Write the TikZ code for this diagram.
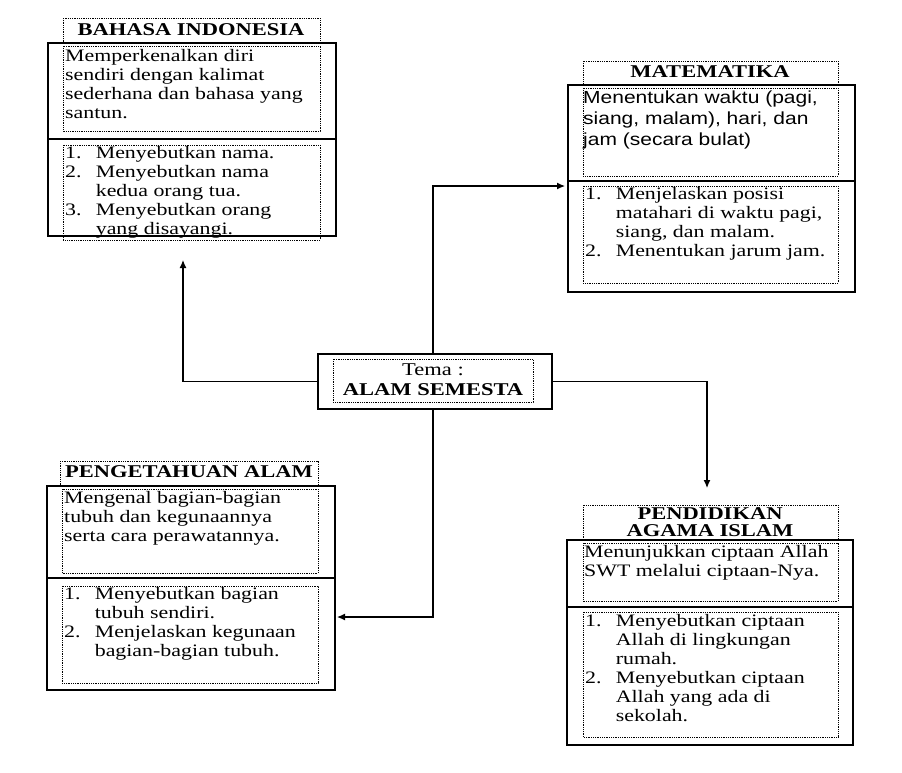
\documentclass[tikz,border=0pt]{standalone}
\usepackage{fontspec}
\setmainfont[FakeStretch=1.25]{Liberation Serif}
\setsansfont[FakeStretch=1.2]{Liberation Sans}
\usetikzlibrary{arrows.meta}
\begin{document}
\begin{tikzpicture}[x=1pt,y=-1pt,
  outer/.style={draw,line width=1.2pt},
  dot/.style={draw,densely dotted,line width=0.8pt},
  txt/.style={anchor=north west,inner sep=0pt,align=left,font=\fontsize{17.5}{19}\selectfont},
  ttl/.style={inner sep=0pt,font=\fontsize{18}{19}\selectfont\bfseries,align=center},
  conn/.style={line width=1.2pt,-{Latex[length=8pt,width=7pt]}}]
\useasboundingbox (0,0) rectangle (902,772);
\newcommand{\itm}[1]{\makebox[1.75em][l]{#1}}
\newcommand{\cnt}{\hspace*{1.75em}}
% BAHASA INDONESIA
\draw[outer] (48,43) rectangle (336,236); \draw[outer] (48,139)--(336,139);
\draw[dot] (63,18) rectangle (320,43); \node[ttl] (t1) at (191,30) {BAHASA INDONESIA};
\draw[dot] (63,46) rectangle (320,131);
\node[txt] (a1) at (65,49) {Memperkenalkan diri\\sendiri dengan kalimat\\sederhana dan bahasa yang\\santun.};
\draw[dot] (63,145) rectangle (320,240);
\node[txt] (b1) at (65,146) {\itm{1.}Menyebutkan nama.\\\itm{2.}Menyebutkan nama\\\cnt kedua orang tua.\\\itm{3.}Menyebutkan orang\\\cnt yang disayangi.};
% MATEMATIKA
\draw[outer] (568,85) rectangle (855,292); \draw[outer] (568,181)--(855,181);
\draw[dot] (583,61) rectangle (838,85); \node[ttl] (t2) at (710,72) {MATEMATIKA};
\draw[dot] (583,88) rectangle (838,176);
\node[txt,font=\fontsize{17.5}{21}\sffamily\selectfont] (a2) at (583,91) {Menentukan waktu (pagi,\\siang, malam), hari, dan\\jam (secara bulat)};
\draw[dot] (583,186) rectangle (838,283);
\node[txt] (b2) at (585,187) {\itm{1.}Menjelaskan posisi\\\cnt matahari di waktu pagi,\\\cnt siang, dan malam.\\\itm{2.}Menentukan jarum jam.};
% CENTER
\node[outer,minimum width=234pt,minimum height=55pt,inner sep=0pt] (c) at (435,381.5) {};
\draw[dot] (333,359) rectangle (533,402);
\node[inner sep=0pt,align=center,font=\fontsize{18}{20}\selectfont] (ct) at (433,380) {Tema :\\\textbf{ALAM SEMESTA}};
% PENGETAHUAN ALAM
\draw[outer] (47,486) rectangle (335,690); \draw[outer] (47,578)--(335,578);
\draw[dot] (60,461) rectangle (318,486); \node[ttl] (t3) at (189,472) {PENGETAHUAN ALAM};
\draw[dot] (62,489) rectangle (318,573);
\node[txt] (a3) at (64,491) {Mengenal bagian-bagian\\tubuh dan kegunaannya\\serta cara perawatannya.};
\draw[dot] (62,586) rectangle (318,683);
\node[txt] (b3) at (64,587) {\itm{1.}Menyebutkan bagian\\\cnt tubuh sendiri.\\\itm{2.}Menjelaskan kegunaan\\\cnt bagian-bagian tubuh.};
% PAI
\draw[outer] (567,540) rectangle (853,745); \draw[outer] (567,607)--(853,607);
\draw[dot] (583,505) rectangle (838,540);
\node[ttl,font=\fontsize{18}{17}\selectfont\bfseries] (t4) at (710,522) {PENDIDIKAN\\AGAMA ISLAM};
\draw[dot] (583,543) rectangle (838,601);
\node[txt] (a4) at (584,545) {Menunjukkan ciptaan Allah\\SWT melalui ciptaan-Nya.};
\draw[dot] (583,612) rectangle (838,737);
\node[txt] (b4) at (585,614) {\itm{1.}Menyebutkan ciptaan\\\cnt Allah di lingkungan\\\cnt rumah.\\\itm{2.}Menyebutkan ciptaan\\\cnt Allah yang ada di\\\cnt sekolah.};
% connectors
\coordinate (e1) at (183,260);
\coordinate (e2) at (565,186);
\coordinate (e3) at (707,488);
\coordinate (e4) at (337,617);
\draw[conn] (c.west) -| (e1);
\draw[conn] (c.north -| 433,0) |- (e2);
\draw[conn] (c.east) -| (e3);
\draw[conn] (c.south -| 433,0) |- (e4);
\end{tikzpicture}
\end{document}
